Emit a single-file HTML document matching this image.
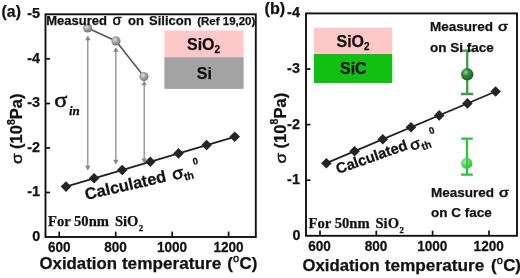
<!DOCTYPE html>
<html><head><meta charset="utf-8">
<style>
html,body{margin:0;padding:0;background:#fff;}
svg{display:block;filter:blur(0.45px);}
text{font-family:"Liberation Sans",sans-serif;font-weight:bold;fill:#111;stroke:#111;stroke-width:0.25px;}
.serif{font-family:"Liberation Serif",serif;}
</style></head>
<body>
<svg width="520" height="278" viewBox="0 0 520 278">
<defs>
<radialGradient id="gs" cx="0.4" cy="0.38" r="0.65">
<stop offset="0" stop-color="#dedede"/><stop offset="0.45" stop-color="#a6a6a6"/><stop offset="1" stop-color="#6e6e6e"/>
</radialGradient>
<radialGradient id="dg" cx="0.38" cy="0.35" r="0.7">
<stop offset="0" stop-color="#8fd08f"/><stop offset="0.4" stop-color="#2f8a3a"/><stop offset="1" stop-color="#1d5a26"/>
</radialGradient>
<radialGradient id="lg" cx="0.38" cy="0.35" r="0.7">
<stop offset="0" stop-color="#a6f0a6"/><stop offset="0.5" stop-color="#4fdc58"/><stop offset="1" stop-color="#2fc63c"/>
</radialGradient>
<path id="dm" d="M0,-5.3 L5.3,0 L0,5.3 L-5.3,0 Z" fill="#242424"/>
</defs>
<rect width="520" height="278" fill="#fff"/>

<!-- ============ PANEL A ============ -->
<g id="pa">
<rect x="45.5" y="14.3" width="210.3" height="222.7" fill="none" stroke="#111" stroke-width="1.9"/>
<g stroke="#111" stroke-width="1.7">
<line x1="45.5" x2="50" y1="58.8" y2="58.8"/>
<line x1="45.5" x2="50" y1="103.5" y2="103.5"/>
<line x1="45.5" x2="50" y1="147.9" y2="147.9"/>
<line x1="45.5" x2="50" y1="192.5" y2="192.5"/>
<line x1="59.2" x2="59.2" y1="237" y2="231.6"/>
<line x1="115.7" x2="115.7" y1="237" y2="231.6"/>
<line x1="172.2" x2="172.2" y1="237" y2="231.6"/>
<line x1="228.6" x2="228.6" y1="237" y2="231.6"/>
</g>
<g font-size="14.4" text-anchor="end">
<text x="40" y="17.7">-5</text>
<text x="40" y="63.2">-4</text>
<text x="40" y="107.4">-3</text>
<text x="40" y="151.8">-2</text>
<text x="40" y="196.4">-1</text>
<text x="40.2" y="240.8">0</text>
</g>
<g font-size="14.3" text-anchor="middle">
<text transform="translate(59.3,252.2) scale(0.95,1)">600</text>
<text transform="translate(115.5,252.2) scale(0.95,1)">800</text>
<text transform="translate(172,252.2) scale(0.95,1)">1000</text>
<text transform="translate(228.5,252.2) scale(0.95,1)">1200</text>
</g>
<g font-size="16.9">
<text x="39.5" y="269.1" textLength="77.5" lengthAdjust="spacingAndGlyphs">Oxidation</text>
<text x="121.9" y="269.1" textLength="99.3" lengthAdjust="spacingAndGlyphs">temperature</text>
<text x="227.3" y="269.1">(<tspan font-size="11" dy="-7.4" style="font-weight:normal;stroke-width:0.45px">o</tspan><tspan dy="7.4" dx="0.4">C)</tspan></text>
</g>
<g transform="translate(22.3,164.1) rotate(-90)"><text transform="scale(1.18,1)" font-size="14.6" style="font-weight:normal;stroke-width:0.45px">σ</text><text x="15.2" y="0" font-size="16.5">(10<tspan font-size="10.5" dy="-7.8">8</tspan><tspan dy="7.8">Pa)</tspan></text></g>
<text x="1.6" y="17.4" font-size="15.8">(a)</text>

<rect x="164.4" y="30.4" width="79.2" height="27" fill="#ffc8c8"/>
<rect x="164.4" y="57.2" width="79.2" height="31.7" fill="#a3a3a3"/>
<text x="187" y="49.9" font-size="16">SiO<tspan font-size="10" dy="3">2</tspan></text>
<text x="204.4" y="79.1" font-size="16" text-anchor="middle">Si</text>


<g stroke="#878787" stroke-width="1.25" fill="#878787">
<line x1="87.8" x2="87.8" y1="38" y2="168"/>
<line x1="115.9" x2="115.9" y1="50" y2="162"/>
<line x1="144.2" x2="144.2" y1="83" y2="161"/>
<path d="M87.8,35.6 l-2.7,4.6 h5.4z M115.9,47.2 l-2.7,4.6 h5.4z M144.2,80.8 l-2.7,4.4 h5.4z" stroke="none"/>
<path d="M87.8,170.6 l-2.7,-4.8 h5.4z M115.9,164.6 l-2.7,-4.8 h5.4z M144.2,163.4 l-2.7,-4.8 h5.4z" stroke="none"/>
</g>
<polyline points="87.6,28 115.9,40.9 143.9,76.5" fill="none" stroke="#585858" stroke-width="1.6"/>
<circle cx="87.6" cy="28" r="4.6" fill="url(#gs)"/>
<circle cx="115.9" cy="40.9" r="4.6" fill="url(#gs)"/>
<circle cx="143.9" cy="76.5" r="4.6" fill="url(#gs)"/>

<g font-size="13">
<text x="46.2" y="25.3">Measured</text>
<text x="112.5" y="25.3" font-size="14.5" style="font-weight:normal;stroke-width:0.5px">σ</text>
<text x="128" y="25.3">on</text>
<text x="149" y="25.3">Silicon</text>
<text x="197.2" y="25.3" font-size="11.5">(Ref 19,20)</text>
</g>
<line x1="66.0" y1="186.6" x2="234.7" y2="136.8" stroke="#222" stroke-width="1.8"/>
<use href="#dm" x="66.0" y="186.6"/>
<use href="#dm" x="94.1" y="178.3"/>
<use href="#dm" x="122.2" y="170.0"/>
<use href="#dm" x="150.3" y="161.7"/>
<use href="#dm" x="178.5" y="153.4"/>
<use href="#dm" x="206.6" y="145.1"/>
<use href="#dm" x="234.7" y="136.8"/>

<g transform="translate(86.3,200) rotate(-13)">
<text x="0" y="0" font-size="16.4">Calculated</text>
<text transform="translate(89.3,0) scale(1.15,1)" font-size="16.5" style="font-weight:normal;stroke-width:0.6px">σ</text>
<text x="100.5" y="3.2" font-size="10.5">th</text>
<text x="112.3" y="-10" font-size="9.5">0</text>
</g>
<text x="48" y="226.2" font-size="14.6" class="serif">For 50nm <tspan dx="2.3">SiO</tspan><tspan font-size="8.8" dy="4.3" dx="0.4">2</tspan></text>
<text transform="translate(54.2,106.6) scale(1.16,1)" font-size="21" class="serif" style="font-weight:normal;stroke-width:0.55px">σ</text>
<text x="69" y="114.5" font-size="13" class="serif" font-style="italic">in</text>
</g>

<!-- ============ PANEL B ============ -->
<g id="pb">
<rect x="306" y="13.4" width="211" height="222.4" fill="none" stroke="#111" stroke-width="1.9"/>
<g stroke="#111" stroke-width="1.7">
<line x1="306" x2="310.5" y1="69" y2="69"/>
<line x1="306" x2="310.5" y1="124.6" y2="124.6"/>
<line x1="306" x2="310.5" y1="180.2" y2="180.2"/>
<line x1="320" x2="320" y1="235.8" y2="230.6"/>
<line x1="376.3" x2="376.3" y1="235.8" y2="230.6"/>
<line x1="432.6" x2="432.6" y1="235.8" y2="230.6"/>
<line x1="489" x2="489" y1="235.8" y2="230.6"/>
</g>
<g font-size="14.4" text-anchor="end">
<text x="299.9" y="16.8">-4</text>
<text x="299.9" y="73">-3</text>
<text x="299.9" y="128.6">-2</text>
<text x="299.9" y="184.3">-1</text>
<text x="300.6" y="240">0</text>
</g>
<g font-size="14.3" text-anchor="middle">
<text transform="translate(319.5,251.4) scale(0.95,1)">600</text>
<text transform="translate(376,251.4) scale(0.95,1)">800</text>
<text transform="translate(432.3,251.4) scale(0.95,1)">1000</text>
<text transform="translate(488.7,251.4) scale(0.95,1)">1200</text>
</g>
<g font-size="16.9">
<text x="302.6" y="270.9" textLength="77" lengthAdjust="spacingAndGlyphs">Oxidation</text>
<text x="384.7" y="270.9" textLength="99.6" lengthAdjust="spacingAndGlyphs">temperature</text>
<text x="491" y="270.9">(<tspan font-size="11" dy="-7.4" style="font-weight:normal;stroke-width:0.45px">o</tspan><tspan dy="7.4" dx="0.4">C)</tspan></text>
</g>
<g transform="translate(285.5,163.6) rotate(-90)"><text transform="scale(1.18,1)" font-size="14.6" style="font-weight:normal;stroke-width:0.45px">σ</text><text x="15.2" y="0" font-size="16.6">(10<tspan font-size="10.5" dy="-7.8">8</tspan><tspan dy="7.8">Pa)</tspan></text></g>
<text x="264.6" y="14.1" font-size="16.2">(b)</text>

<rect x="313.9" y="27.6" width="78.3" height="26.5" fill="#ffc8c8"/>
<rect x="313.9" y="54" width="78.3" height="29" fill="#12c014"/>
<text x="336.5" y="46.5" font-size="16">SiO<tspan font-size="10" dy="3">2</tspan></text>
<text x="353.3" y="74" font-size="16" text-anchor="middle">SiC</text>

<line x1="326.4" y1="163.2" x2="495.6" y2="91.5" stroke="#222" stroke-width="1.8"/>
<use href="#dm" x="326.4" y="163.2"/>
<use href="#dm" x="354.6" y="151.2"/>
<use href="#dm" x="382.8" y="139.3"/>
<use href="#dm" x="411.0" y="127.3"/>
<use href="#dm" x="439.2" y="115.4"/>
<use href="#dm" x="467.4" y="103.4"/>
<use href="#dm" x="495.6" y="91.5"/>

<g transform="translate(338.1,174.1) rotate(-19.5)">
<text x="0" y="0" font-size="14.75">Calculated</text>
<text transform="translate(77.3,2.6) scale(1.15,1)" font-size="14.8" style="font-weight:normal;stroke-width:0.6px">σ</text>
<text x="88" y="6" font-size="10.5">th</text>
<text x="100" y="-6.5" font-size="9.5">0</text>
</g>
<text x="308.6" y="228.3" font-size="14.6" class="serif">For 50nm <tspan dx="2.3">SiO</tspan><tspan font-size="8.8" dy="4.3" dx="0.4">2</tspan></text>

<g stroke="#3b9c48" stroke-width="2.3" fill="none">
<path d="M467.2,50.6 V94 M461,50.6 H473.2 M461,94 H473.2"/>
</g>
<circle cx="467.2" cy="74.3" r="6.2" fill="url(#dg)"/>
<circle cx="466.8" cy="163.4" r="5.6" fill="url(#lg)"/>
<g stroke="#25c63a" stroke-width="2.1" fill="none">
<path d="M467,138.6 V174.6" stroke-opacity="0.75"/><path d="M467,138.6 V158 M461.2,138.6 H472.8 M461.2,174.6 H472.8 M467,169 V174.6"/>
</g>

<text x="430" y="31.3" font-size="13.5">Measured</text><text transform="translate(498,31.3) scale(1.2,1)" font-size="13.4" style="font-weight:normal;stroke-width:0.6px">σ</text>
<text x="430" y="51.7" font-size="13.5">on Si face</text>
<text x="431" y="197" font-size="13.5">Measured</text><text transform="translate(499,197) scale(1.2,1)" font-size="13.4" style="font-weight:normal;stroke-width:0.6px">σ</text>
<text x="431" y="217" font-size="13.5">on C face</text>
</g>
</svg>
</body></html>
